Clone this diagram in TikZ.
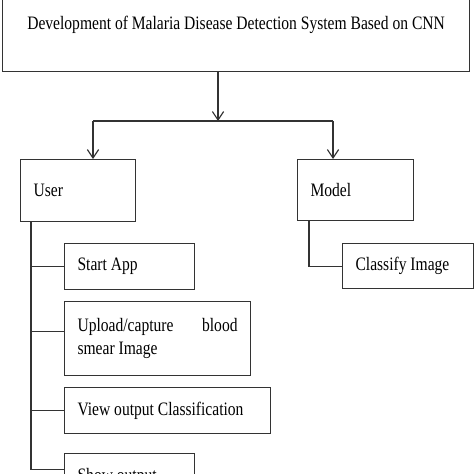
\documentclass[tikz,border=0pt]{standalone}
\usepackage{fontspec}
\setmainfont{Liberation Serif}[FakeStretch=0.82]
\usetikzlibrary{positioning,calc,arrows.meta}

\newcommand{\pxl}{0.025cm}

\tikzset{
  box/.style={draw=black!80, line width=0.8pt, inner xsep={13*\pxl}, inner ysep=0pt,
    anchor=north west, minimum height={46*\pxl}, align=flush left,
    font=\fontsize{13.5}{16.4}\selectfont},
  link/.style={draw=black!80, line width=0.8pt},
  >={Straight Barb[length=6pt,width=8pt]}
}

\begin{document}
\begin{tikzpicture}[x=0.025cm, y=-0.025cm]
    \useasboundingbox (0,0) rectangle (474,474);
    \clip (0,0) rectangle (474,474);
    % top box
    \node[box, text width={441*\pxl}, align=flush center, minimum height={94*\pxl}] (title) at (2,-23)
        {Development of Malaria Disease Detection System Based on CNN};
    % actors
    \node[box, text width={89*\pxl}, minimum height={62*\pxl}] (user) at (20,159) {User};
    \node[box, text width={90*\pxl}, minimum height={61*\pxl}] (model) at (297,159) {Model};
    % user tasks
    \node[box, text width={104*\pxl}] (start) at (64,243) {Start App};
    \node[box, text width={160*\pxl}, align=justify, minimum height={74*\pxl}] (upload) at (64,301)
        {Upload/capture blood smear Image};
    \node[box, text width={180*\pxl}] (view) at (64,387) {View output Classification};
    \node[box, text width={104*\pxl}] (show) at (64,453) {Show output};
    % model task
    \node[box, text width={105*\pxl}, minimum height={45*\pxl}] (classify) at (342,243) {Classify Image};

    \coordinate (split) at (218,121);
    \coordinate (uin) at ($(user.north west)+(73,0)$);
    \coordinate (min) at ($(model.north west)+(36,0)$);
    \draw[link,->] (title.south -| split) -- (split);
    \draw[link] (split -| uin) -- (split -| min);
    \draw[link,->] (split -| uin) -- (uin);
    \draw[link,->] (split -| min) -- (min);

    \coordinate (trunk) at ($(user.south west)+(11,0)$);
    \draw[link] (trunk) |- (start.west);
    \draw[link] (trunk) |- ($(upload.west)+(0,-7)$);
    \draw[link] (trunk) |- (view.west);
    \draw[link] (trunk) |- ($(show.west)+(0,-7)$);

    \draw[link] ($(model.south west)+(12,0)$) |- (classify.west);
\end{tikzpicture}
\end{document}
